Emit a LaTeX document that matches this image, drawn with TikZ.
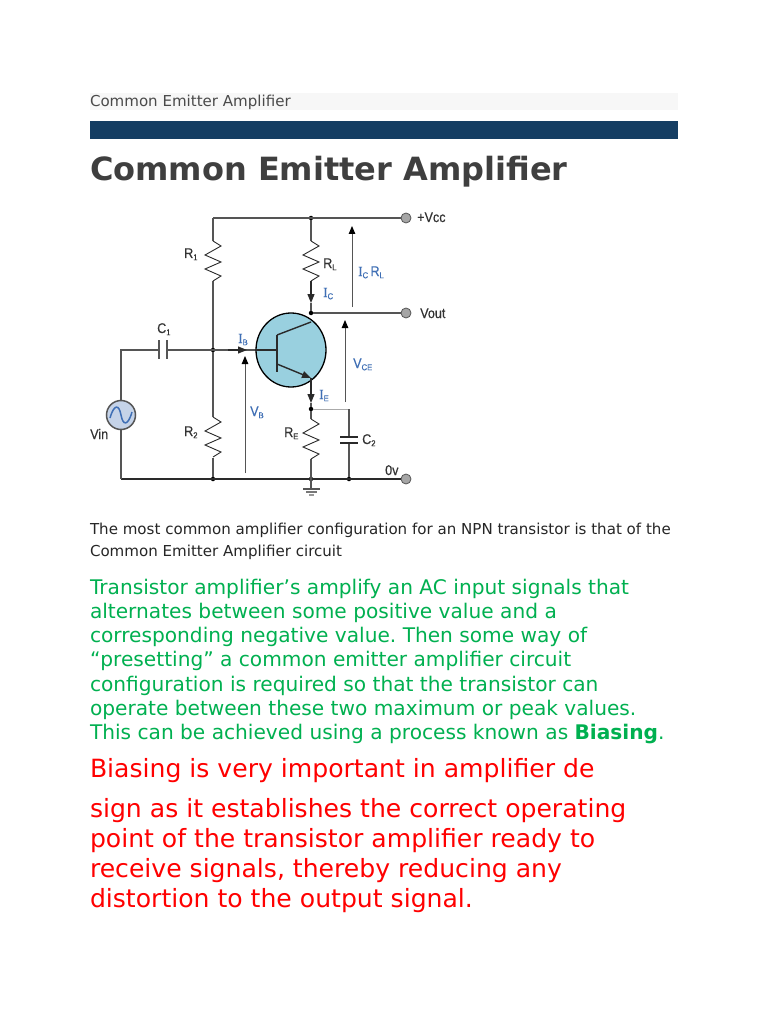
\documentclass[tikz,border=0pt]{standalone}
\usepackage{fontspec}
\setmainfont{DejaVu Sans}
\newfontfamily\lab[FakeStretch=0.9,FakeBold=0.3]{Liberation Sans}
\newfontfamily\labser[FakeStretch=0.95,FakeBold=0.3]{Liberation Serif}
\usetikzlibrary{arrows.meta,shapes.geometric}
\definecolor{wire}{HTML}{555555}
\definecolor{darkw}{HTML}{2A2A2A}
\definecolor{labblue}{HTML}{3F6FB5}
\definecolor{labdark}{HTML}{333333}
\definecolor{navybar}{HTML}{153E63}
\definecolor{headbg}{HTML}{F7F7F7}
\definecolor{headtx}{HTML}{4A4A4A}
\definecolor{titletx}{HTML}{3F3F3F}
\definecolor{bodytx}{HTML}{262626}
\definecolor{greentx}{HTML}{00B050}
\definecolor{redtx}{HTML}{FF0000}
\definecolor{tfill}{HTML}{99D0DF}
\definecolor{srcfill}{HTML}{C5D3E8}
\definecolor{term}{HTML}{A6A6A6}
\frenchspacing
\newcommand{\sbs}[1]{\raisebox{-0.3ex}{\fontsize{8.5}{8.5}\selectfont #1}}
\newcommand{\tl}[5]{\node[line,anchor=base west,text=#2,font=\fontsize{#3}{#3}\selectfont] (#1) at (#4) {#5};}
\tikzset{
  line/.style={inner sep=0pt,outer sep=0pt},
  wireline/.style={draw=wire,line width=1.1pt},
  darkline/.style={draw=darkw,line width=1.2pt},
  thinres/.style={draw=darkw,line width=0.9pt},
  dot/.style={circle,fill=black,inner sep=0pt,minimum size=4.5pt},
  terminal/.style={circle,draw=wire,fill=term,line width=0.8pt,inner sep=0pt,minimum size=10pt},
  tiparrow/.style={draw=darkw,line width=1.2pt,-{Triangle[length=9pt,width=7pt]}},
  volt/.style={draw=wire,line width=1pt,-{Triangle[length=8pt,width=6.5pt,color=black]}},
  vlab/.style={inner sep=0pt,anchor=base west,font=\lab\fontsize{14}{14}\selectfont,text=labdark},
  blab/.style={inner sep=0pt,anchor=base west,font=\lab\fontsize{14}{14}\selectfont,text=labblue},
}
\newcommand{\zig}[1]{(#1) -- ++(8,5) -- ++(-16,9) -- ++(16,7) -- ++(-16,7) -- ++(16,7) -- ++(-8,5)}
\begin{document}
\begin{tikzpicture}[x=1pt,y=-1pt]
\useasboundingbox (0,0) rectangle (768,1024);
\fill[white] (0,0) rectangle (768,1024);
% header
\node[line,fill=headbg,minimum width=588pt,minimum height=17pt,anchor=north west] (headband) at (90,93) {};
\node[line,fill=navybar,minimum width=588pt,minimum height=18pt,anchor=north west] (navy) at (90,121) {};
\tl{head}{headtx}{15.05}{90,107}{Common Emitter Amplifier}
\tl{title}{titletx}{32}{90,181}{\textbf{Common Emitter Amplifier}}
% coordinates
\coordinate (cleft) at (121,350);
\coordinate (pl1) at (159,350);
\coordinate (pl2) at (167,350);
\coordinate (r1top) at (213,241);
\coordinate (r1bot) at (213,281);
\coordinate (r2top) at (213,417);
\coordinate (r2bot) at (213,458);
\coordinate (rltop) at (311,241);
\coordinate (rlbot) at (311,281);
\coordinate (retop) at (311,419);
\coordinate (rebot) at (311,459);
\coordinate (topleft) at (213,218);
\coordinate (botleft) at (121,479);
\coordinate (ibtail) at (228,350);
\coordinate (ibtip) at (247,350);
\coordinate (ictip) at (311,303);
\coordinate (ietip) at (311,403);
\coordinate (gnd) at (311,489);
\coordinate (ccorner) at (349,409);
\coordinate (c2a) at (349,437);
\coordinate (c2b) at (349,443);
\coordinate (baseR) at (277,350);
\coordinate (colA) at (277,335);
\coordinate (colB) at (311,322);
\coordinate (emA) at (277,364);
\coordinate (emB) at (311,378);
\coordinate (vbfoot) at (245,473);
\coordinate (vbtip) at (245,356);
\coordinate (vcefoot) at (345,402);
\coordinate (vcetip) at (345,320);
\coordinate (icfoot) at (352,307);
\coordinate (ictop) at (352,226);
% transistor and source bodies
\node[ellipse,draw=black,fill=tfill,line width=1.3pt,minimum width=70pt,minimum height=74pt,inner sep=0pt] (tr) at (291,350) {};
\node[circle,draw=wire,fill=srcfill,line width=1.5pt,minimum size=29pt,inner sep=0pt] (src) at (121,415) {};
% dots and terminals
\node[dot] (nvcc) at (311,218) {};
\node[dot] (nb) at (213,350) {};
\node[dot] (nc) at (311,313) {};
\node[dot] (ne) at (311,409) {};
\node[dot] (n2) at (213,479) {};
\node[dot] (n3) at (311,479) {};
\node[dot] (n4) at (349,479) {};
\node[terminal] (tvcc) at (406,218) {};
\node[terminal] (tout) at (406,313) {};
\node[terminal] (t0) at (406,479) {};
% rails and wires
\draw[wireline] (topleft) -- (tvcc);
\draw[wireline] (topleft) -- (r1top);
\draw[wireline] (r1bot) -- (nb);
\draw[wireline] (nb) -- (r2top);
\draw[wireline] (r2bot) -- (n2);
\draw[darkline] (botleft) -- (t0);
\draw[wireline] (src) -- (botleft);
\draw[wireline] (src) -- (cleft) -- (pl1);
\draw[wireline] (pl2) -- (ibtail);
\draw[wireline] (ibtail) -- (tr.west);
\draw[wireline] (nvcc) -- (rltop);
\draw[wireline] (nc) -- (tout);
\draw[wireline] (ne) -- (retop);
\draw[draw=wire!50,line width=1pt] (ne) -- (ccorner);
\draw[wireline] (ccorner) -- (c2a);
\draw[wireline] (c2b) -- (n4);
\draw[wireline] (rebot) -- (gnd);
% resistors
\foreach \r in {r1top,r2top,rltop,retop} \draw[thinres] \zig{\r};
% capacitors
\draw[wire,line width=1.6pt] (159,340) -- (159,359);
\draw[wire,line width=1.6pt] (167,340) -- (167,359);
\draw[darkw,line width=1.4pt] (340,437) -- (358,437);
\draw[darkw,line width=1.4pt] (340,443) -- (358,443);
% transistor internals
\draw[darkw,line width=1.5pt] (tr.west) -- (baseR);
\draw[darkw,line width=1.6pt] (277,335) -- (277,372);
\draw[darkw,line width=1.4pt] (colA) -- (colB);
\draw[darkw,line width=1.4pt,-{Triangle[length=9pt,width=7pt]}] (emA) -- (emB);
% current arrows
\draw[tiparrow] (ibtail) -- (ibtip);
\draw[tiparrow] (rlbot) -- (ictip);
\draw[wireline] (ictip) -- (nc);
\draw[tiparrow] (emB) -- (ietip);
\draw[wireline] (ietip) -- (ne);
% voltage arrows
\draw[volt] (vbfoot) -- (vbtip);
\draw[volt] (vcefoot) -- (vcetip);
\draw[volt] (icfoot) -- (ictop);
% ground
\draw[wire,line width=1.1pt] (303,489) -- (320,489);
\draw[wire!80,line width=1.1pt] (306,492) -- (317,492);
\draw[wire!60,line width=1.1pt] (309,495) -- (314,495);
% source sine
\draw[labblue,line width=1.5pt] (110,418) .. controls (114,404) and (119,404) .. (121,415) .. controls (123,426) and (128,426) .. (132,412);
% labels
\node[vlab] (lr1) at (184,258) {R\sbs{1}};
\node[vlab] (lc1) at (157,333) {C\sbs{1}};
\node[blab] (lib) at (238,343) {{\labser I}\sbs{B}};
\node[blab] (lvb) at (250,416) {V\sbs{B}};
\node[vlab] (lvin) at (90,439) {Vin};
\node[vlab] (lr2) at (184,436) {R\sbs{2}};
\node[vlab] (lrl) at (323,268) {R\sbs{L}};
\node[blab] (lic) at (323,297) {{\labser I}\sbs{C}};
\node[blab] (licrl) at (358,276) {{\labser I}\sbs{C}\,R\sbs{L}};
\node[vlab] (lvcc) at (417,222) {+Vcc};
\node[vlab] (lvout) at (420,318) {Vout};
\node[blab] (lvce) at (353,368) {V\sbs{CE}};
\node[blab] (lie) at (319,399) {{\labser I}\sbs{E}};
\node[vlab] (lre) at (284,437) {R\sbs{E}};
\node[vlab] (lc2) at (362,444) {C\sbs{2}};
\node[vlab] (l0v) at (385,475) {0v};
% body text
\tl{b1}{bodytx}{15.07}{90,534}{The most common amplifier configuration for an NPN transistor is that of the}
\tl{b2}{bodytx}{15.07}{90,556}{Common Emitter Amplifier circuit}
\tl{g1}{greentx}{20.15}{90,594}{Transistor amplifier’s amplify an AC input signals that}
\tl{g2}{greentx}{20.15}{90,618}{alternates between some positive value and a}
\tl{g3}{greentx}{20.15}{90,642}{corresponding negative value. Then some way of}
\tl{g4}{greentx}{20.15}{90,666}{“presetting” a common emitter amplifier circuit}
\tl{g5}{greentx}{20.15}{90,691}{configuration is required so that the transistor can}
\tl{g6}{greentx}{20.15}{90,715}{operate between these two maximum or peak values.}
\tl{g7}{greentx}{20.15}{90,739}{This can be achieved using a process known as \textbf{Biasing}.}
\tl{r1}{redtx}{25.1}{90,777}{Biasing is very important in amplifier de}
\tl{r2}{redtx}{25.1}{90,817}{sign as it establishes the correct operating}
\tl{r3}{redtx}{25.1}{90,847}{point of the transistor amplifier ready to}
\tl{r4}{redtx}{25.1}{90,877}{receive signals, thereby reducing any}
\tl{r5}{redtx}{25.1}{90,907}{distortion to the output signal.}
\end{tikzpicture}
\end{document}
